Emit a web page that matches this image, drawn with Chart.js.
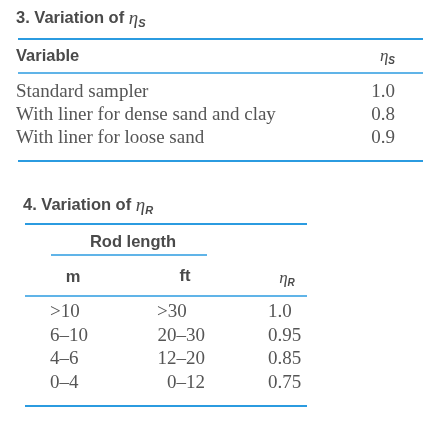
<!DOCTYPE html>
<html><head><meta charset="utf-8">
<script src="https://cdn.jsdelivr.net/npm/chart.js@4/dist/chart.umd.min.js"></script>
<style>html,body{margin:0;padding:0;background:#fff}#wrap{width:447px;height:424px}</style>
</head><body><div id="wrap"><canvas id="c" width="447" height="424"></canvas></div>
<script>
// Table 3 data
const title3 = "3. Variation of ";
const variables3 = ["Standard sampler", "With liner for dense sand and clay", "With liner for loose sand"];
const etaS = ["1.0", "0.8", "0.9"];
// Table 4 data
const title4 = "4. Variation of ";
const rodM = [">10", "6\u201310", "4\u20136", "0\u20134"];
const rodFt = [">30", "20\u201330", "12\u201320", "0\u201312"];
const etaR = ["1.0", "0.95", "0.85", "0.75"];

const BLUE = "#2b9be0", HEAD = "#4a4a4a", BODY = "#555";
const SANS = "'Liberation Sans', Arial, sans-serif", SERIF = "'Liberation Serif', 'DejaVu Serif', serif";
const BF = "19px " + SERIF, HF = "bold 16.5px " + SANS, TF = "bold 16.5px " + SANS;

const tablePlugin = {
  id: 'table',
  afterDraw(chart) {
    const ctx = chart.ctx, xs = chart.scales.x, ys = chart.scales.y;
    const X = v => xs.getPixelForValue(v), Y = v => ys.getPixelForValue(v);
    function text(s, x, y, font, color, align) {
      ctx.font = font; ctx.fillStyle = color; ctx.textAlign = align || 'left'; ctx.textBaseline = 'middle';
      ctx.fillText(s, X(x), Y(y));
    }
    function eta(sub, x, y, size, align) {
      ctx.font = "italic " + size + "px " + SERIF; ctx.fillStyle = HEAD; ctx.textBaseline = 'middle';
      const w1 = ctx.measureText("\u03B7").width;
      ctx.font = "italic bold " + Math.round(size*0.6) + "px " + SANS;
      const w2 = ctx.measureText(sub).width;
      let x0 = X(x); if (align === 'right') x0 -= w1 + w2; if (align === 'center') x0 -= (w1 + w2)/2;
      ctx.textAlign = 'left';
      ctx.font = "italic " + size + "px " + SERIF; ctx.fillText("\u03B7", x0, Y(y));
      ctx.font = "italic bold " + Math.round(size*0.6) + "px " + SANS; ctx.fillText(sub, x0 + w1, Y(y) + size*0.25);
    }
    function line(x1, x2, y, w) {
      ctx.strokeStyle = BLUE; ctx.lineWidth = w; ctx.beginPath();
      ctx.moveTo(X(x1), Y(y)); ctx.lineTo(X(x2), Y(y)); ctx.stroke();
    }
    ctx.save();
    // Table 3
    text(title3, 16, 18, TF, HEAD);
    ctx.font = TF;
    eta("S", 16 + ctx.measureText(title3).width, 19, 19);
    line(18, 423, 39, 2.2);
    text("Variable", 16, 56, HF, HEAD);
    eta("S", 395, 57, 17, 'right');
    line(18, 423, 73, 1.4);
    variables3.forEach((v, i) => {
      const y = 92 + i * 23;
      text(v, 16, y, BF, BODY);
      text(etaS[i], 395, y, BF, BODY, 'right');
    });
    line(18, 423, 161, 2.2);
    // Table 4
    text(title4, 23, 205, TF, HEAD);
    ctx.font = TF;
    eta("R", 23 + ctx.measureText(title4).width, 206, 19);
    line(25, 307, 224, 2.2);
    text("Rod length", 133, 242, HF, HEAD, 'center');
    line(51, 207, 255, 1.4);
    text("m", 73, 277, HF, HEAD, 'center');
    text("ft", 185, 276, HF, HEAD, 'center');
    eta("R", 287, 279, 17, 'center');
    line(25, 307, 296, 1.4);
    rodM.forEach((v, i) => {
      const y = 312 + i * 23.7;
      text(v, 50, y, BF, BODY);
      if (i === 0) text(rodFt[i], 157, y, BF, BODY);
      else text(rodFt[i], 205, y, BF, BODY, 'right');
      text(etaR[i], 268, y, BF, BODY);
    });
    line(25, 307, 406, 2.2);
    ctx.restore();
  }
};

new Chart(document.getElementById('c'), {
  type: 'scatter',
  data: { datasets: [{ data: [] }] },
  options: {
    responsive: false, animation: false, maintainAspectRatio: false,
    layout: { padding: 0 },
    plugins: { legend: { display: false }, tooltip: { enabled: false } },
    scales: {
      x: { type: 'linear', min: 0, max: 447, display: false },
      y: { type: 'linear', min: 0, max: 424, reverse: true, display: false }
    }
  },
  plugins: [tablePlugin]
});
</script></body></html>
